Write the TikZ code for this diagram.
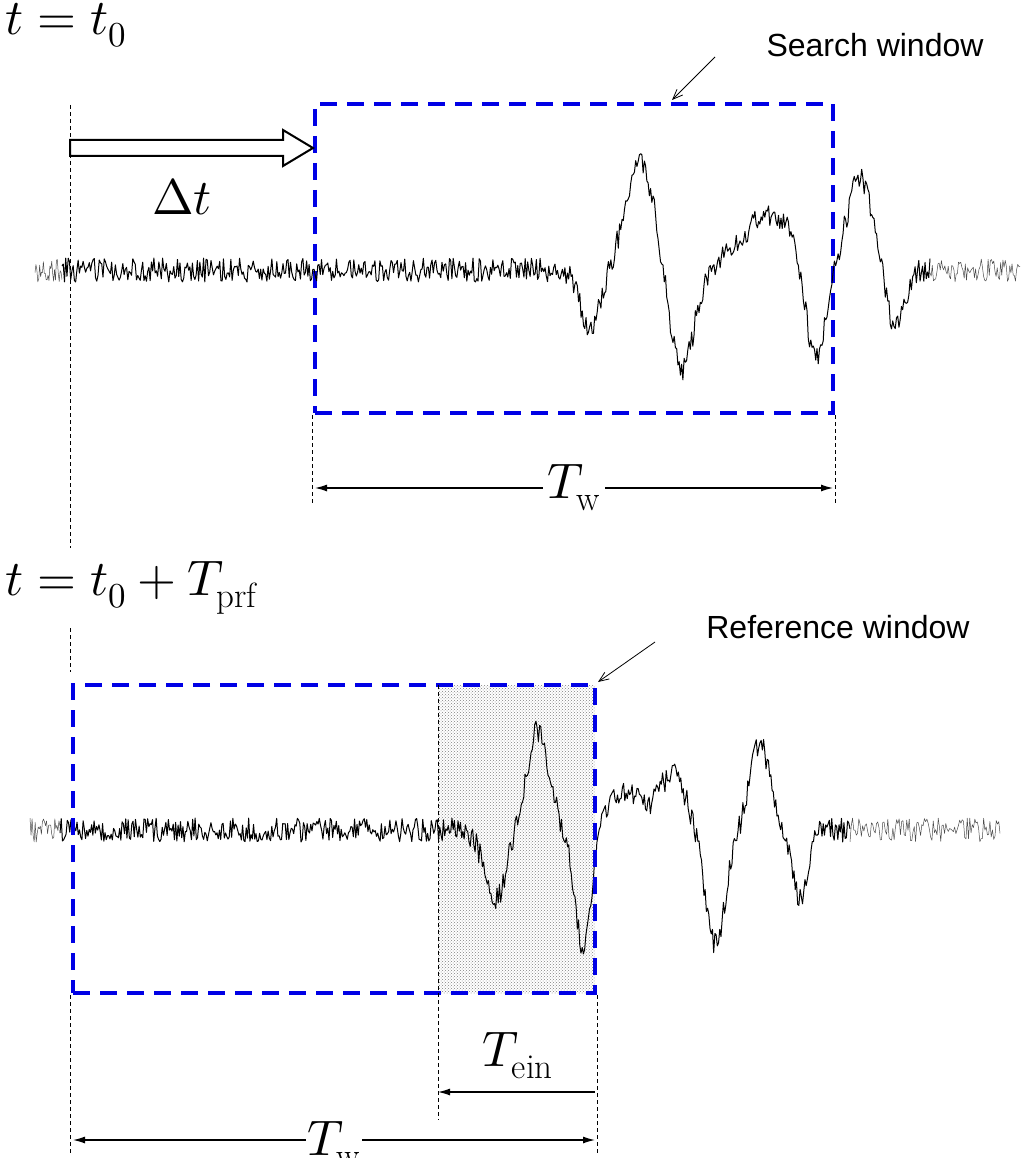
\documentclass[tikz,border=0pt]{standalone}
\usepackage{fontspec}
\usepackage{unicode-math}
\setmathfont{Latin Modern Math}
\newfontfamily\lab{Liberation Sans}
\usetikzlibrary{patterns,arrows.meta}
\begin{document}
\begin{tikzpicture}[x=1pt,y=-1pt,
  win/.style={draw=blue!90!black,line width=4.5pt,dash pattern=on 17pt off 10pt,inner sep=0pt},
  dim/.style={{Latex[length=12pt,width=7pt]}-{Latex[length=12pt,width=7pt]},line width=1.2pt},
  guide/.style={dashed,line width=0.7pt,dash pattern=on 4pt off 3pt},
  big/.style={font=\fontsize{50}{60}\selectfont},
  lbl/.style={font=\lab\fontsize{32}{38}\selectfont},
  wave/.style={line width=1pt,line join=round},
  thin/.style={line width=0.5pt,line join=round}]
\useasboundingbox (0,0) rectangle (1025,1158);
\tikzset{declare function={g(\x,\c,\w)=exp(-min(((\x-\c)/\w)^2,20));}}
\pgfmathsetmacro\dummy{1}
\pgfmathsetseed{7}
% top
\node[big,anchor=west] (t0) at (2,25) {$t=t_0$};
\coordinate (g1a) at (70,105); \coordinate (g1b) at (70,548);
\draw[guide] (g1a) -- (g1b);
\node[win,minimum width=518pt,minimum height=309pt] (sw) at (574,258.5) {};
\draw[line width=2pt,fill=white] (70,140)--(283,140)--(283,130)--(313,148)--(283,166)--(283,156)--(70,156)--cycle;
\node[big] (dt) at (182,197) {$\Delta t$};
\draw[thin,gray!60!black] plot[domain=35:62,samples=30] (\x,{270+12*rand});
\draw[wave] plot[domain=62:930,samples=700] (\x,{270+12*rand+60*g(\x,590,14)-110*g(\x,640,20)+100*g(\x,682,17)-55*g(\x,770,40)+105*g(\x,815,14)-90*g(\x,860,18)+62*g(\x,895,12)});
\draw[thin,gray!60!black] plot[domain=930:1020,samples=80] (\x,{270+12*rand});
\node[lbl] (swl) at (875,45) {Search window};
\draw[line width=0.8pt,-{Straight Barb[length=10pt,width=8pt]}] (715,57) -- (672,100);
\draw[guide] (sw.south west) -- ++(0,90) coordinate (d1);
\draw[guide] (sw.south east) -- ++(0,90) coordinate (d2);
\draw[dim] (315,488) -- node[fill=white,big,inner sep=4pt] (tw1) {$T_{\mathrm{w}}$} (833,488);
% bottom
\node[big,anchor=west] (t1) at (2,588) {$t=t_0+T_{\mathrm{prf}}$};
\coordinate (g2a) at (70,628); \coordinate (g2b) at (70,672);
\draw[guide] (g2a) -- (g2b);
\fill[pattern=crosshatch dots,pattern color=gray] (438,685) rectangle (595,993);
\draw[thin,gray!60!black] plot[domain=30:60,samples=30] (\x,{830+12*rand});
\draw[wave] plot[domain=60:850,samples=650] (\x,{830+12*rand+70*g(\x,495,15)-100*g(\x,538,15)+120*g(\x,583,11)-40*g(\x,625,22)-55*g(\x,672,20)+115*g(\x,715,14)-85*g(\x,760,14)+70*g(\x,800,11)});
\draw[thin,gray!60!black] plot[domain=850:1000,samples=120] (\x,{830+12*rand});
\node[win,minimum width=522pt,minimum height=308pt] (rw) at (334,839) {};
\node[lbl] (rwl) at (838,627) {Reference window};
\draw[line width=0.8pt,-{Straight Barb[length=10pt,width=8pt]}] (655,642) -- (598,682);
\coordinate (e1) at (438,685); \coordinate (e2) at (438,1120);
\draw[guide] (e1) -- (e2);
\draw[guide] (rw.south west) -- ++(0,160) coordinate (d3);
\draw[guide] (rw.south east) -- ++(0,160) coordinate (d4);
\draw[line width=1.2pt,-{Latex[length=12pt,width=7pt]}] (595,1092) -- (438,1092);
\node[big] (tein) at (518,1056) {$T_{\mathrm{ein}}$};
\draw[dim] (73,1140) -- node[fill=white,big,inner sep=1pt,yshift=-5pt] (tw2) {$T_{\mathrm{w}}$} (595,1140);
\end{tikzpicture}
\end{document}
